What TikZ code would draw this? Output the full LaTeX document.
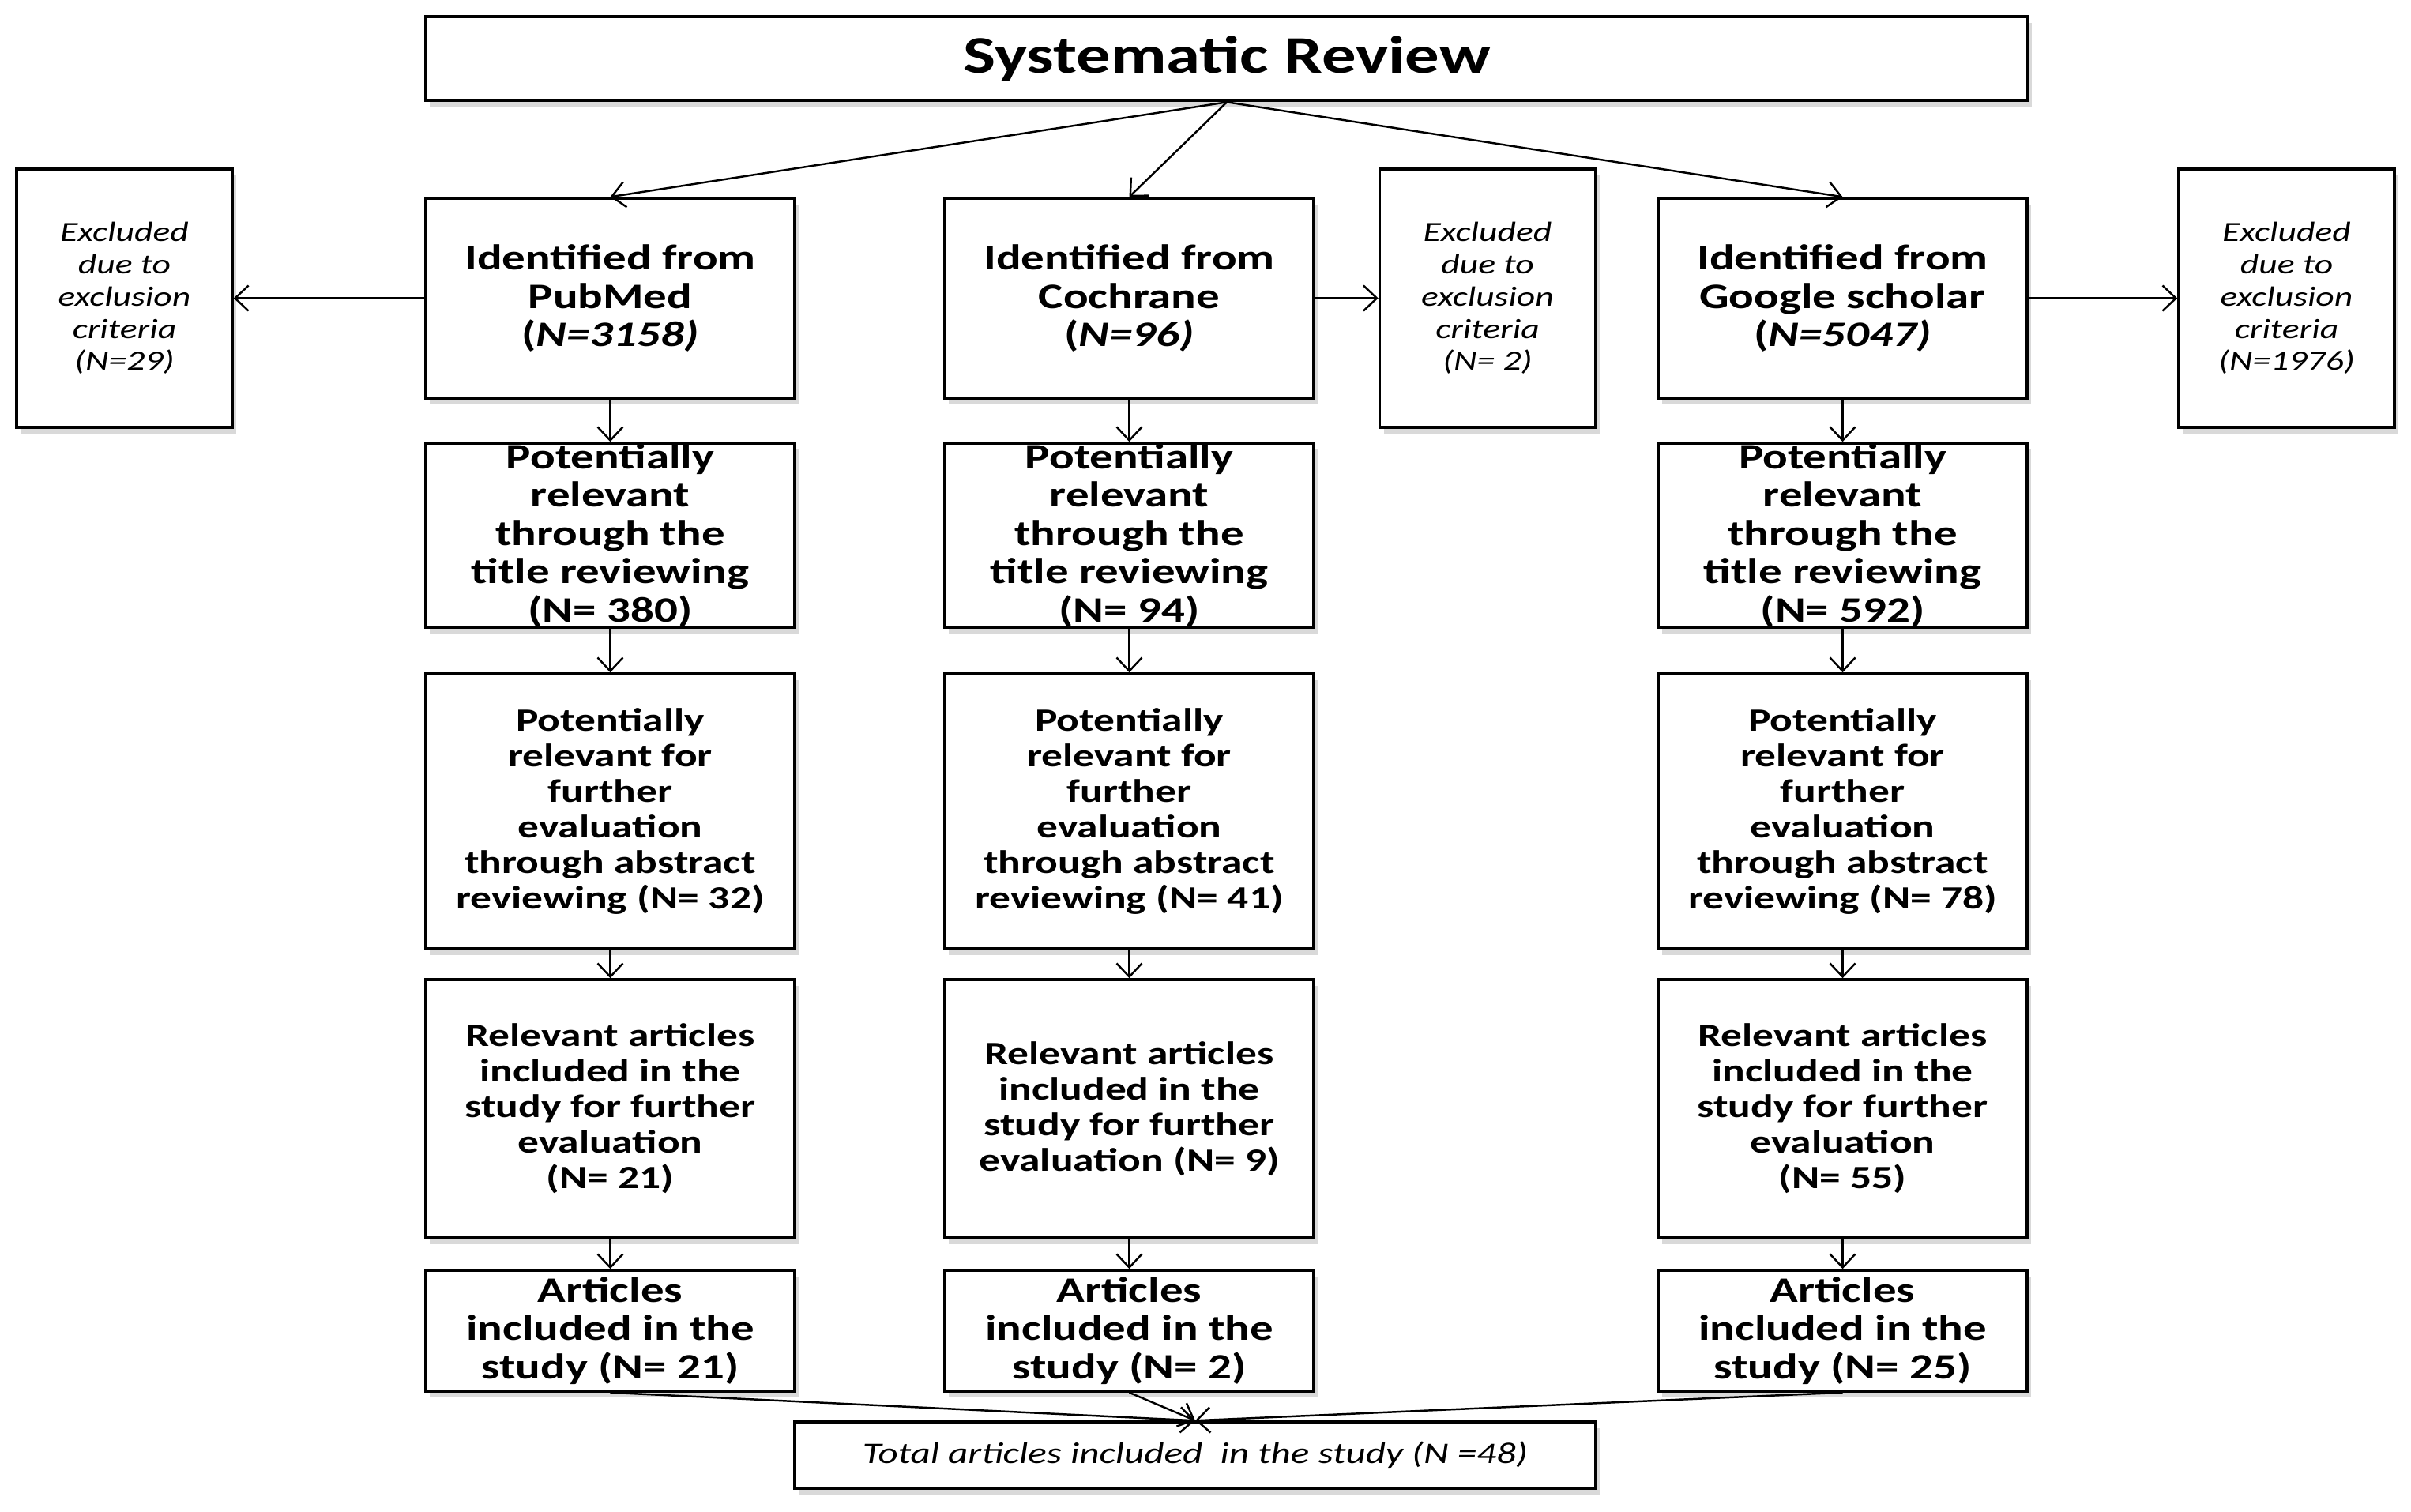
\documentclass[tikz,border=0pt]{standalone}
\usepackage{fontspec}
\setmainfont{Carlito}[FakeStretch=1.3]
\usetikzlibrary{arrows.meta,shadows}
\begin{document}
\begin{tikzpicture}[x=1cm,y=1cm,
  box/.style={draw=black, line width=1pt, fill=white, align=center, inner sep=0pt,
    minimum width=4.67cm,
    drop shadow={shadow xshift=0.5mm, shadow yshift=-0.8mm, opacity=0.3},
    font=\bfseries\fontsize{12.9}{13.8}\selectfont},
  tightbox/.style={box, font=\bfseries\fontsize{11.7}{12.8}\selectfont},
  exbox/.style={box, minimum width=2.73cm, minimum height=3.27cm,
    font=\itshape\fontsize{10}{11.6}\selectfont},
  arr/.style={-{Straight Barb[length=1.7mm,width=3.2mm]}, line width=0.7pt}]
\useasboundingbox (0,0) rectangle (30.52,-19.13);

% title
\node[box, minimum width=20.28cm, minimum height=1.06cm, line width=1.3pt,
  font=\bfseries\fontsize{19}{21}\selectfont] (top) at (15.53,-0.74) {Systematic Review};

% row 1
\node[box, minimum height=2.53cm] (p1) at (7.725,-3.775) {Identified from\\PubMed\\(\textit{N=3158)}};
\node[box, minimum height=2.53cm] (c1) at (14.295,-3.775) {Identified from\\Cochrane\\(\textit{N=96)}};
\node[box, minimum height=2.53cm] (g1) at (23.325,-3.775) {Identified from\\Google scholar\\(\textit{N=5047)}};

% excluded
\node[exbox] (e1) at (1.575,-3.775) {Excluded\\due to\\exclusion\\criteria\\(N=29)};
\node[exbox] (e2) at (18.83,-3.775) {Excluded\\due to\\exclusion\\criteria\\(N= 2)};
\node[exbox] (e3) at (28.945,-3.775) {Excluded\\due to\\exclusion\\criteria\\(N=1976)};

% row 2
\node[box, minimum height=2.33cm] (p2) at (7.725,-6.775) {Potentially\\relevant\\through the\\title reviewing\\(N= 380)};
\node[box, minimum height=2.33cm] (c2) at (14.295,-6.775) {Potentially\\relevant\\through the\\title reviewing\\(N= 94)};
\node[box, minimum height=2.33cm] (g2) at (23.325,-6.775) {Potentially\\relevant\\through the\\title reviewing\\(N= 592)};

% row 3
\node[tightbox, minimum height=3.48cm] (p3) at (7.725,-10.27) {Potentially\\relevant for\\further\\evaluation\\through abstract\\reviewing (N= 32)};
\node[tightbox, minimum height=3.48cm] (c3) at (14.295,-10.27) {Potentially\\relevant for\\further\\evaluation\\through abstract\\reviewing (N= 41)};
\node[tightbox, minimum height=3.48cm] (g3) at (23.325,-10.27) {Potentially\\relevant for\\further\\evaluation\\through abstract\\reviewing (N= 78)};

% row 4
\node[tightbox, minimum height=3.27cm] (p4) at (7.725,-14.035) {Relevant articles\\included in the\\study for further\\evaluation\\(N= 21)};
\node[tightbox, minimum height=3.27cm] (c4) at (14.295,-14.035) {Relevant articles\\included in the\\study for further\\evaluation (N= 9)};
\node[tightbox, minimum height=3.27cm] (g4) at (23.325,-14.035) {Relevant articles\\included in the\\study for further\\evaluation\\(N= 55)};

% row 5
\node[box, minimum height=1.53cm] (p5) at (7.725,-16.845) {Articles\\included in the\\study (N= 21)};
\node[box, minimum height=1.53cm] (c5) at (14.295,-16.845) {Articles\\included in the\\study (N= 2)};
\node[box, minimum height=1.53cm] (g5) at (23.325,-16.845) {Articles\\included in the\\study (N= 25)};

% total
\node[box, minimum width=10.14cm, minimum height=0.84cm,
  font=\itshape\fontsize{10.75}{12}\selectfont] (tot) at (15.13,-18.42) {Total articles included\ \ in the study (N =48)};

% connectors
\draw[arr] (top.south) -- (p1.north);
\draw[arr] (top.south) -- (c1.north);
\draw[arr] (top.south) -- (g1.north);
\draw[arr] (p1.west) -- (e1.east);
\draw[arr] (c1.east) -- (e2.west);
\draw[arr] (g1.east) -- (e3.west);
\foreach \c in {p,c,g}{
  \draw[arr] (\c1.south) -- (\c2.north);
  \draw[arr] (\c2.south) -- (\c3.north);
  \draw[arr] (\c3.south) -- (\c4.north);
  \draw[arr] (\c4.south) -- (\c5.north);
  \draw[arr] (\c5.south) -- (tot.north);
}
\end{tikzpicture}
\end{document}
